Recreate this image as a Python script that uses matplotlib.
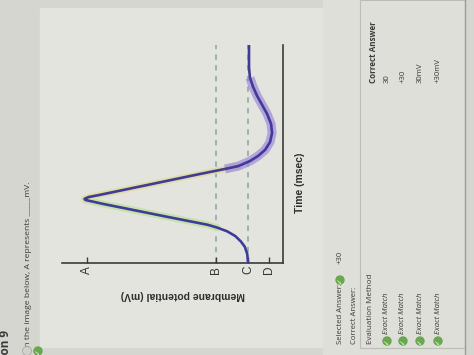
import numpy as np
import matplotlib
matplotlib.use("Agg")
import matplotlib.pyplot as plt
from matplotlib.patches import Rectangle, Ellipse
from matplotlib.lines import Line2D

potential_mv = [-70, -69.5, -68, -65.5, -62, -57, -51, -45, -20, 0, 20, 31, 31.5, 29,
                23.2, -8, -39, -55.7, -64, -71.2, -76.2, -80.6, -83.7, -84.9, -84.3,
                -81.8, -78.7, -75.6, -73.1, -71.2, -70.6, -70.6, -70.6]
time_ms = [0.0, 0.25, 0.45, 0.6, 0.75, 0.88, 0.98, 1.06, 1.28, 1.46, 1.64, 1.75, 1.78, 1.83,
           1.88, 2.17, 2.46, 2.61, 2.69, 2.83, 2.97, 3.14, 3.36, 3.61, 3.86,
           4.14, 4.39, 4.64, 4.89, 5.14, 5.42, 5.72, 6.05]

level_names = ["A", "B", "C", "D"]
level_mv = [30, -50, -70, -83]
dashed_levels = [-50, -70]

question_num = "Question 9"
question_text = "In the image below, A represents _____mV."
selected_answer = "+30"
match_rows = ["Exact Match", "Exact Match", "Exact Match", "Exact Match"]
correct_rows = ["30", "+30", "30mV", "+30mV"]

W, H = 474, 355


def fx(x):
    return x / W


def fy(y):
    return 1 - y / H


fig = plt.figure(figsize=(W / 100, H / 100), dpi=100, facecolor="#d6d6d1")

# page panels
fig.add_artist(Rectangle((fx(40), fy(347)), (323 - 40) / W, (347 - 8) / H,
                         transform=fig.transFigure, color="#e4e4df", zorder=0))
fig.add_artist(Rectangle((fx(323), fy(355)), (465 - 323) / W, 1,
                         transform=fig.transFigure, color="#dfdfda", zorder=0))
fig.add_artist(Rectangle((fx(360), fy(348)), (465 - 360) / W, 348 / H,
                         transform=fig.transFigure, facecolor="none",
                         edgecolor="#bdbdb8", lw=0.8, zorder=1))
fig.add_artist(Line2D([fx(465), fx(465)], [0, 1], transform=fig.transFigure,
                      color="#9c9c98", lw=1.0))

# chart, drawn rotated: potential runs right->left, time runs upward
ax = fig.add_axes([fx(62), fy(263), (283 - 62) / W, (263 - 45) / H])
ax.set_facecolor("none")
ax.set_xlim(45.5, -91.7)
ax.set_ylim(0, 6.05)

v = np.array(potential_mv)
t = np.array(time_ms)
tip = int(np.argmax(v))

rise = (t <= t[tip]) & (v > -53)
fall = (t >= t[tip]) & (t <= 2.7)
under = (t >= 2.6) & (t <= 5.15)
ax.plot(v[rise], t[rise], color="#c3e2a4", lw=5, alpha=0.9, solid_capstyle="round")
ax.plot(v[fall], t[fall], color="#e2dc9e", lw=4.5, alpha=0.9, solid_capstyle="round")
ax.plot(v[under], t[under], color="#9b82d8", lw=6.5, alpha=0.65, solid_capstyle="butt")

for lv in dashed_levels:
    ax.axvline(lv, color="#84a6a4", lw=1.1, ls=(0, (3.5, 3.5)), zorder=1)

ax.plot(v, t, color="#3f3b98", lw=1.9, solid_joinstyle="round", zorder=3)

for s in ["top", "left"]:
    ax.spines[s].set_visible(False)
for s in ["bottom", "right"]:
    ax.spines[s].set_color("#3a3a3a")
    ax.spines[s].set_linewidth(1.2)
ax.set_yticks([])
ax.set_xticks(level_mv)
ax.set_xticklabels(level_names)
ax.tick_params(axis="x", direction="in", length=4.5, width=1, color="#3a3a3a", pad=2)
for lbl in ax.get_xticklabels():
    lbl.set_rotation(90)
    lbl.set_fontsize(8.5)
    lbl.set_family("Liberation Sans")
    lbl.set_color("#333333")
    lbl.set_va("top")
    lbl.set_ha("center")

fig.text(fx(183), fy(295), "Membrane potential (mV)", rotation=180, ha="center",
         va="center", fontsize=7.5, fontweight="bold", family="Liberation Sans",
         color="#2e2e2e")
fig.text(fx(300), fy(183), "Time (msec)", rotation=90, ha="center", va="center",
         fontsize=7.5, fontweight="bold", family="Liberation Sans", color="#2e2e2e")

# quiz page text, rotated with the photo
qkw = dict(rotation=90, rotation_mode="anchor", va="center", family="Open Sans",
           color="#3a3a3a")
fig.text(fx(6), fy(330), question_num, ha="right", fontsize=8.5, fontweight="bold", **qkw)
fig.text(fx(28), fy(349), question_text, ha="left", fontsize=6.1, **qkw)
fig.text(fx(340), fy(344), "Selected Answer:", ha="left", fontsize=5.6, **qkw)
fig.text(fx(340), fy(264), selected_answer, ha="left", fontsize=5.6, **qkw)
fig.text(fx(355), fy(344), "Correct Answer:", ha="left", fontsize=5.6, **qkw)
fig.text(fx(371), fy(344), "Evaluation Method", ha="left", fontsize=5.8, **qkw)
fig.text(fx(373), fy(83), "Correct Answer", ha="left", fontsize=5.8, fontweight="bold",
         **qkw)


def check(x, y):
    fig.add_artist(Ellipse((fx(x), fy(y)), 8 / W, 8 / H, transform=fig.transFigure,
                           color="#6aa84f", zorder=4))
    fig.text(fx(x), fy(y), "\u2713", rotation=90, ha="center", va="center",
             fontsize=5, color="white", fontweight="bold", zorder=5)


check(340, 280)
check(38, 351)
fig.add_artist(Ellipse((fx(27), fy(351)), 9 / W, 9 / H, transform=fig.transFigure,
                       facecolor="#d0d0cc", edgecolor="#a8a8a4", lw=0.6, zorder=4))

row_x = [387, 403, 420, 438]
for rx, m, c in zip(row_x, match_rows, correct_rows):
    check(rx, 341)
    fig.text(fx(rx), fy(334), m, ha="left", fontsize=5.6, style="italic", **qkw)
    fig.text(fx(rx), fy(83), c, ha="left", fontsize=5.6, **qkw)

fig.savefig("out.png", dpi=100, facecolor=fig.get_facecolor())
